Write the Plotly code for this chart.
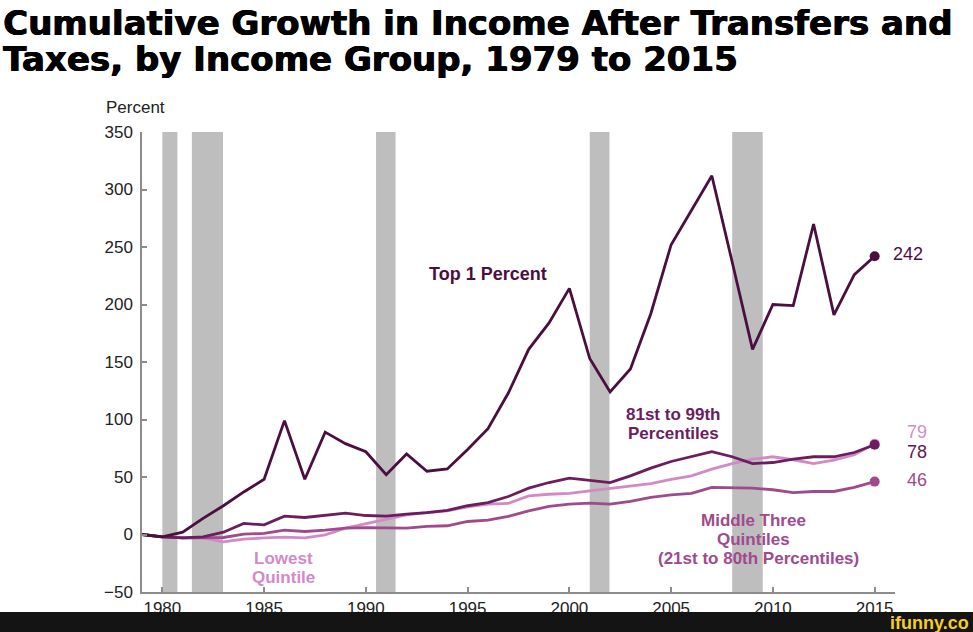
import plotly.graph_objects as go

# ---------------- data ----------------
years = list(range(1979, 2016))
top1 = [0, -2, 2, 14, 25, 37, 48, 99, 48, 89, 79, 72, 52, 70, 55, 57, 74, 92, 123,
        161, 184, 214, 153, 124, 144, 192, 252, 282, 312, 237, 161, 200, 199, 270,
        191, 226, 242]
p81_99 = [0, -2, -3, -2, 2, 9.6, 8.4, 16, 14.8, 16.8, 18.6, 16.5, 16, 17.7, 19, 21,
          25, 27.8, 33, 40.3, 45.2, 49, 47.3, 45.2, 51, 57.7, 63.5, 67.6, 72, 67.6,
          61.7, 62.6, 65.5, 67.6, 67.6, 71.3, 78]
middle3 = [0, -2, -3, -3, -2.6, 0.3, 1, 3.8, 2.6, 3.8, 5.6, 6, 5.6, 5.5, 7, 7.6,
           11.3, 12.5, 15.7, 20.6, 24.4, 26.4, 27.3, 26.4, 28.7, 32.2, 34.5, 35.7,
           40.9, 40.9, 40.3, 38.9, 36.5, 37.4, 37.4, 40.9, 46]
lowest = [0, -2, -3, -3, -6.4, -4, -3, -2.3, -3, -0.3, 5.6, 9.6, 13, 17, 19, 20.5,
          24, 26.4, 27, 33.6, 35, 35.7, 38, 40, 41.7, 44.3, 48, 51, 56.8, 61.7,
          65.5, 67.6, 65, 61.7, 64.7, 69.3, 79]
end_labels = {"top1": "242", "p81": "78", "mid": "46", "low": "79"}

recession_start = [1980.0, 1981.45, 1990.5, 2001.0, 2008.0]
recession_end = [1980.74, 1982.98, 1991.46, 2001.97, 2009.5]

y_ticks = [-50, 0, 50, 100, 150, 200, 250, 300, 350]
y_ticktext = ["\u221250", "0", "50", "100", "150", "200", "250", "300", "350"]
x_ticks = [1980, 1985, 1990, 1995, 2000, 2005, 2010, 2015]

# ---------------- style ----------------
C_TOP = "#4A0F3F"
C_81 = "#6B1D5E"
C_MID = "#A04A8E"
C_LOW = "#D28AC7"
AXIS = "#8C8C8C"
TXT = "#222222"
W, H = 973, 632
ML, MR, MT, MB = 142, 78, 132, 40
PW, PH = W - ML - MR, H - MT - MB


def pxx(x):
    return (x - ML) / PW


def pxy(y):
    return (H - MB - y) / PH


fig = go.Figure()

for s, e in zip(recession_start, recession_end):
    fig.add_shape(type="rect", xref="x", yref="y", x0=s, x1=e, y0=-50, y1=350,
                  fillcolor="#BEBEBE", line_width=0, layer="below")

series = [(lowest, C_LOW), (middle3, C_MID), (p81_99, C_81), (top1, C_TOP)]
for vals, col in series:
    fig.add_trace(go.Scatter(x=years, y=vals, mode="lines",
                             line=dict(color=col, width=2.8), hoverinfo="skip",
                             showlegend=False, cliponaxis=False))
    fig.add_trace(go.Scatter(x=[years[-1]], y=[vals[-1]], mode="markers",
                             marker=dict(color=col, size=10), hoverinfo="skip",
                             showlegend=False, cliponaxis=False))

ann = []
TF = "DejaVu Sans"
TSH = "0.7px 0 0 #000, -0.3px 0 0 #000"
ann.append(dict(text="<b>Cumulative Growth in Income After Transfers and</b>",
                xref="paper", yref="paper", x=pxx(1), y=pxy(1),
                xanchor="left", yanchor="top", showarrow=False,
                font=dict(family=TF, size=34, color="#000", shadow=TSH)))
ann.append(dict(text="<b>Taxes, by Income Group, 1979 to 2015</b>",
                xref="paper", yref="paper", x=pxx(1), y=pxy(37),
                xanchor="left", yanchor="top", showarrow=False,
                font=dict(family=TF, size=34, color="#000", shadow=TSH)))
ann.append(dict(text="Percent", xref="paper", yref="paper", x=pxx(104), y=pxy(107),
                xanchor="left", yanchor="middle", showarrow=False,
                font=dict(family="Liberation Sans", size=17, color=TXT)))

LF = "Liberation Sans"


def lab(text, x, y, col, size=18, bold=True):
    t = f"<b>{text}</b>" if bold else text
    ann.append(dict(text=t, xref="x", yref="y", x=x, y=y, xanchor="center",
                    yanchor="middle", showarrow=False,
                    font=dict(family=LF, size=size, color=col)))


def endlab(text, xpx, ypx, col):
    ann.append(dict(text=text, xref="paper", yref="paper", x=pxx(xpx), y=pxy(ypx),
                    xanchor="left", yanchor="middle", showarrow=False,
                    font=dict(family=LF, size=18, color=col)))


lab("Top 1 Percent", 1995.99, 226.5, C_TOP)
lab("81st to 99th", 2005.1, 104, C_81, size=17)
lab("Percentiles", 2005.1, 87.5, C_81, size=17)
lab("Middle Three", 2009.05, 12.5, C_MID, size=17)
lab("Quintiles", 2009.05, -4, C_MID, size=17)
lab("(21st to 80th Percentiles)", 2009.3, -20.5, C_MID, size=17)
lab("Lowest", 1985.95, -20.5, C_LOW, size=17)
lab("Quintile", 1985.95, -37.5, C_LOW, size=17)

endlab(end_labels["top1"], 891, 254, C_TOP)
endlab(end_labels["low"], 905, 432, "#D08FC8")
endlab(end_labels["p81"], 905, 452, "#5B1A4E")
endlab(end_labels["mid"], 905, 480, C_MID)

# watermark band
fig.add_shape(type="rect", xref="paper", yref="paper", x0=pxx(0), x1=pxx(W),
              y0=pxy(H), y1=pxy(612), fillcolor="#141414", line_width=0,
              layer="above")
ann.append(dict(text="<b>ifunny.co</b>", xref="paper", yref="paper", x=pxx(970),
                y=pxy(622.5), xanchor="right", yanchor="middle", showarrow=False,
                borderpad=0,
                font=dict(family="Liberation Sans", size=18, color="#F5CF1C")))

fig.update_layout(
    width=W, height=H, margin=dict(l=ML, r=MR, t=MT, b=MB, pad=0),
    paper_bgcolor="white", plot_bgcolor="white",
    annotations=ann, showlegend=False,
    xaxis=dict(range=[1979, 2016], tickvals=x_ticks, ticks="inside", ticklen=5,
               tickwidth=1.5, tickcolor=AXIS, showline=True, linecolor=AXIS,
               linewidth=1.5, showgrid=False, zeroline=False,
               tickfont=dict(family=LF, size=17, color=TXT)),
    yaxis=dict(range=[-50, 350], tickvals=y_ticks, ticktext=y_ticktext,
               ticks="inside", ticklen=5, tickwidth=1.5, tickcolor=AXIS,
               showline=True, linecolor=AXIS, linewidth=1.5, showgrid=False,
               zeroline=False, ticklabelstandoff=4,
               tickfont=dict(family=LF, size=17, color=TXT)),
)

fig.write_html("out.html")
